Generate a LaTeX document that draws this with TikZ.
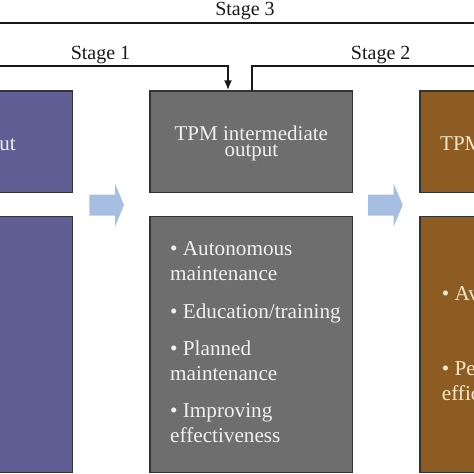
\documentclass[tikz,border=0pt]{standalone}
\usepackage{fontspec}
\setmainfont{Liberation Serif}
\usetikzlibrary{arrows.meta}

\definecolor{inputblue}{HTML}{605E94}
\definecolor{midgray}{HTML}{6E6E6E}
\definecolor{outbrown}{HTML}{8C5C22}
\definecolor{flowblue}{HTML}{A6BEE2}
\definecolor{cream}{HTML}{F6E7C8}
\definecolor{boxline}{HTML}{333333}

\tikzset{
	stagebox/.style={rectangle, draw=boxline, line width=1.2pt, minimum width=202.7pt, inner sep=0pt},
	boxtext/.style={font=\fontsize{21}{16.5}\selectfont, inner sep=0pt, text=white!94!black},
	listtext/.style={font=\fontsize{21.2}{25}\selectfont, align=left, inner sep=0pt, anchor=north west},
	stagelabel/.style={font=\fontsize{20}{24}\selectfont, inner sep=0pt, anchor=base, text=black!90},
	link/.style={line width=2pt, black!90},
	flow/.style={fill=flowblue}
}

\begin{document}
\begin{tikzpicture}[x=1pt, y=-1pt]
		\useasboundingbox (0,0) rectangle (474,474);
		\clip (0,0) rectangle (474,474);
		\node(IN1) at (-28.65, 141.8)[stagebox, fill=inputblue, minimum height=101.7pt]{};
		\node(MID1) at (251.35, 141.8)[stagebox, fill=midgray, minimum height=101.7pt]{};
		\node(OUT1) at (521.35, 141.8)[stagebox, fill=outbrown, minimum height=101.7pt]{};
		\node(IN2) at (-28.65, 344.7)[stagebox, fill=inputblue, minimum height=256pt]{};
		\node(MID2) at (251.35, 344.7)[stagebox, fill=midgray, minimum height=256pt]{};
		\node(OUT2) at (521.35, 344.7)[stagebox, fill=outbrown, minimum height=256pt]{};
		\node(INTEXT) at (16, 150)[boxtext, anchor=base east]{TPM input};
		\node(MIDTEXT) at (251.35, 125.5)[boxtext, anchor=north, align=center]{TPM intermediate\\output};
		\node(OUTTEXT) at (440, 150)[boxtext, anchor=base west, text=cream]{TPM final output};
		\node(MIDLIST) at (170, 240.8)[listtext, text=white!94!black]{\textbullet\ Autonomous\\maintenance\\[13pt]\textbullet\ Education/training\\[12pt]\textbullet\ Planned\\maintenance\\[12.5pt]\textbullet\ Improving\\effectiveness};
		\node(OUTLIST) at (441.7, 285.6)[listtext, text=cream]{\textbullet\ Availability\\[50pt]\textbullet\ Performance\\efficiency};
		\foreach \x in {89.3, 368}
			\fill[flow] (\x, 194.5)--++(25.7, 0)--++(0, -11)--++(9, 21.5)--++(-9, 21.5)--++(0, -11)--++(-25.7, 0)--cycle;
		\node(S1) at (100.5, 59)[stagelabel]{Stage 1};
		\node(S2) at (380.7, 59)[stagelabel]{Stage 2};
		\node(S3) at (245, 15)[stagelabel]{Stage 3};
		\coordinate(C1) at (228, 65.7);
		\coordinate(C2) at (252, 65.7);
		\coordinate(C3) at (245, 22.7);
		\draw[link, -{Latex[length=10pt, width=8pt]}] (IN1.north)|-(C1)--(C1 |- MID1.north);
		\draw[link, -{Latex[length=10pt, width=8pt]}] (C2 |- MID1.north)--(C2)-|(OUT1.north);
		\draw[link, -{Latex[length=10pt, width=8pt]}] ([xshift=-40pt]IN1.north)|-(C3)-|([xshift=40pt]OUT1.north);
\end{tikzpicture}
\end{document}
